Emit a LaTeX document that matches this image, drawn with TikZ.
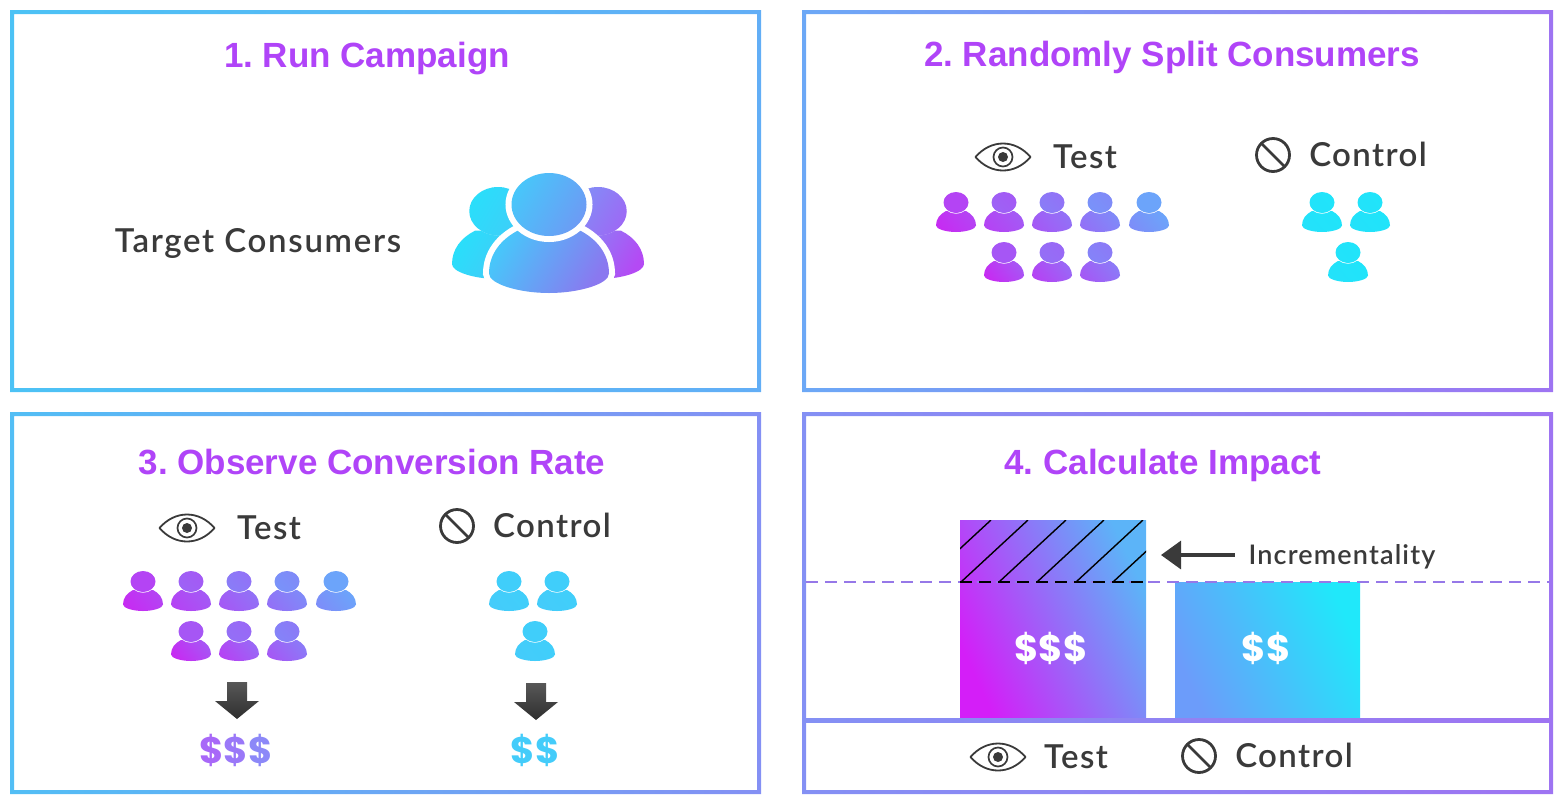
\documentclass[tikz,border=0pt]{standalone}
\usepackage{fontspec}
\setmainfont{Lato Semibold}[LetterSpace=4.2]
\newfontfamily\titlefont{Liberation Sans}[BoldFont={Liberation Sans Bold}]
\newfontfamily\moneyfont{Poppins}
\usetikzlibrary{arrows.meta}
\frenchspacing

\definecolor{ink}{HTML}{3A3A3A}
\definecolor{titlepurple}{HTML}{B044F8}
\definecolor{pmag}{HTML}{C62CF2}
\definecolor{pblue}{HTML}{6CA4FA}
\definecolor{pcyan}{HTML}{20E4FA}
\definecolor{psky}{HTML}{44CCFA}
\definecolor{frameA}{HTML}{4CC2F5}
\definecolor{frameB}{HTML}{62AEF6}
\definecolor{frameC}{HTML}{52BEF5}
\definecolor{frameD}{HTML}{8490F4}
\definecolor{frameE}{HTML}{6CA8F6}
\definecolor{frameF}{HTML}{9E74F2}
\definecolor{dashpurple}{HTML}{9678E8}
\definecolor{barmag}{HTML}{D41EF8}
\definecolor{barblue}{HTML}{6C9CFA}
\definecolor{barsky}{HTML}{5CB4F8}
\definecolor{barcyan}{HTML}{20E8FA}
\definecolor{bigleftA}{HTML}{2ADEFA}
\definecolor{bigleftB}{HTML}{50C0F8}
\definecolor{bigrightA}{HTML}{8090F6}
\definecolor{bigrightB}{HTML}{B44AF4}
\definecolor{bigmidA}{HTML}{48C6FA}
\definecolor{bigmidB}{HTML}{8A78F0}
\definecolor{dollarA}{HTML}{A868F8}
\definecolor{dollarB}{HTML}{9A78F8}
\definecolor{dollarC}{HTML}{8C88F8}

\tikzstyle{frame} = [even odd rule]
\tikzstyle{title} = [font=\titlefont\bfseries\fontsize{35}{35}\selectfont, text=titlepurple, inner sep=0pt, text height=25pt, text depth=7pt]
\tikzstyle{caption} = [font=\fontsize{33}{33}\selectfont, text=ink, inner sep=0pt, text height=24pt, text depth=1pt]
\tikzstyle{money} = [font=\moneyfont\bfseries\fontsize{37}{37}\selectfont, inner sep=0pt, text height=27pt, text depth=1pt]
\tikzstyle{bar} = [inner sep=0pt, shading angle=-65]
\tikzstyle{arrow} = [ink, line width=3.2pt, -{Triangle[length=20pt,width=28pt]}]

\tikzset{
  pics/person/.style n args={2}{code={
    \shade [bottom color=#1, top color=#2, shading angle=-50]
      (-20,33.5) .. controls (-20,27) and (-16,22) .. (-10,19) -- (10,19)
      .. controls (16,22) and (20,27) .. (20,33.5)
      .. controls (20,37) and (10,40) .. (0,40)
      .. controls (-10,40) and (-20,37) .. (-20,33.5) -- cycle;
    \shade [bottom color=#1!60!#2, top color=#2, shading angle=-50, preaction={draw=white, line width=1.4pt}]
      (0,10.5) ellipse (12.5 and 10.5);
  }},
  pics/bigperson/.style n args={3}{code={
    \shade [bottom color=#1, top color=#2, shading angle=-120, preaction={draw=white, line width=#3}]
      (-20,33.5) .. controls (-20,27) and (-16,22) .. (-10,19) -- (10,19)
      .. controls (16,22) and (20,27) .. (20,33.5)
      .. controls (20,37) and (10,40) .. (0,40)
      .. controls (-10,40) and (-20,37) .. (-20,33.5) -- cycle;
    \shade [bottom color=#1, top color=#1!45!#2, shading angle=-120, preaction={draw=white, line width=#3}]
      (0,10.5) ellipse (12.5 and 10.5);
  }},
  pics/eye/.style={code={
    \draw [ink, line width=1.8pt, line join=round] (-27.5,0) .. controls (-12,-18) and (12,-18) .. (27.5,0)
      .. controls (12,18) and (-12,18) .. (-27.5,0) -- cycle;
    \draw [ink, line width=1.7pt] (0,0) circle (9.5);
    \fill [ink] (0,0) circle (5);
  }},
  pics/forbid/.style={code={
    \draw [ink, line width=2.8pt] (0,0) circle (16.5);
    \draw [ink, line width=2.8pt] (-11.7,-11.7) -- (11.7,11.7);
  }},
  pics/downarrow/.style={code={
    \shade [top color=ink!85!white, bottom color=ink!80!black]
      (-10,0) -- (10,0) -- (10,19) -- (22,19) -- (0,37) -- (-22,19) -- (-10,19) -- cycle;
  }}
}

\begin{document}
\begin{tikzpicture}[x=1pt,y=-1pt,node distance=82pt]
    \useasboundingbox (0,0) rectangle (1566,804);

    % frames
    \shade [frame, left color=frameA, right color=frameB] (10,10) rectangle (761,392) (14,14) rectangle (757,388);
    \shade [frame, left color=frameE, right color=frameF] (802,10) rectangle (1553,392) (806,14) rectangle (1549,388);
    \shade [frame, left color=frameC, right color=frameD] (10,412) rectangle (761,794) (14,416) rectangle (757,790);
    \shade [frame, left color=frameD, right color=frameF] (802,412) rectangle (1553,794) (806,416) rectangle (1549,790);

    \node (titleOne) [title] at (367,58) {1. Run Campaign};
    \node (titleTwo) [title] at (1172,57) {2. Randomly Split Consumers};
    \node (titleThree) [title] at (372,465) {3. Observe Conversion Rate};
    \node (titleFour) [title] at (1163,465) {4. Calculate Impact};

    % panel 1
    \node (target) [caption] at (258,241) {\addfontfeature{LetterSpace=5.2}Target Consumers};
    \pic [scale=2.3] at (498,187) {bigperson={bigleftA}{bigleftB}{0.01pt}};
    \pic [scale=2.3] at (598,187) {bigperson={bigrightA}{bigrightB}{0.01pt}};
    \pic [scale=3] at (549,173) {bigperson={bigmidA}{bigmidB}{12pt}};

    % panel 2
    \coordinate (eyeTwo) at (1003,157);
    \coordinate (forbidTwo) at (1273,155);
    \pic at (eyeTwo) {eye};
    \pic at (forbidTwo) {forbid};
    \node (testTwo) [caption, right of=eyeTwo] {Test};
    \node (controlTwo) [caption, right of=forbidTwo, node distance=95pt] {Control};
    \foreach \x/\a/\b in {956/100/80, 1004/80/62, 1052/62/42, 1100/42/22, 1149/18/0}
      \pic at (\x,192) {person={pmag!\a!pblue}{pmag!\b!pblue}};
    \foreach \x/\a/\b in {1004/100/65, 1052/80/50, 1100/62/35}
      \pic at (\x,242) {person={pmag!\a!pblue}{pmag!\b!pblue}};
    \foreach \x/\y in {1322/192, 1370/192, 1348/242}
      \pic at (\x,\y) {person={pcyan!90!psky}{pcyan}};

    % panel 3
    \coordinate (eyeThree) at (187,528);
    \coordinate (forbidThree) at (457,526);
    \pic at (eyeThree) {eye};
    \pic at (forbidThree) {forbid};
    \node (testThree) [caption, right of=eyeThree] {Test};
    \node (controlThree) [caption, right of=forbidThree, node distance=95pt] {Control};
    \foreach \x/\a/\b in {143/100/80, 191/80/62, 239/62/42, 287/42/22, 336/18/0}
      \pic at (\x,571) {person={pmag!\a!pblue}{pmag!\b!pblue}};
    \foreach \x/\a/\b in {191/100/65, 239/80/50, 287/62/35}
      \pic at (\x,621) {person={pmag!\a!pblue}{pmag!\b!pblue}};
    \foreach \x/\y in {509/571, 557/571, 535/621}
      \pic at (\x,\y) {person={psky}{psky!90!pcyan}};
    \pic at (237,682) {downarrow};
    \pic at (536,683) {downarrow};
    \node (moneyTest) [money] at (236,750) {\textcolor{dollarA}{\$}\textcolor{dollarB}{\$}\textcolor{dollarC}{\$}};
    \node (moneyControl) [money, text=psky] at (535,750) {\$\$};

    % panel 4
    \node (barTest) [bottom color=barmag, top color=barsky, bar, minimum width=186pt, minimum height=199pt] at (1053,619.5) {};
    \node (barControl) [bottom color=barblue, top color=barcyan, bar, minimum width=185pt, minimum height=137pt] at (1267.5,650.5) {};
    \begin{scope}
      \clip (960,520) rectangle (1146,582);
      \foreach \x in {924,961,999,1037,1076,1113}
        \draw [black, line width=1.4pt] (\x,582) -- (\x+67,520);
    \end{scope}
    \coordinate (dashStart) at (806,582);
    \coordinate (dashEnd) at (1549,582);
    \coordinate (hatchLeft) at (960,582);
    \coordinate (hatchRight) at (1146,582);
    \draw [dashpurple, line width=2pt, dash pattern=on 12pt off 7pt] (dashStart) -- (dashEnd);
    \draw [black, line width=2pt, dash pattern=on 12pt off 7pt] (hatchLeft) -- (hatchRight);
    \node (moneyBarTest) [money, text=white] at (1051,648) {\$\$\$};
    \node (moneyBarControl) [money, text=white] at (1266,648) {\$\$};
    \node (increment) [caption, font=\fontsize{27}{27}\selectfont, text height=20pt] at (1342,555) {Incrementality};
    \coordinate (incrementTip) at (1161,555);
    \draw [arrow, shorten <=14pt] (increment.west) -- (incrementTip);
    \shade [left color=frameD, right color=frameF] (806,718) rectangle (1549,722);
    \coordinate (eyeFour) at (998,757);
    \coordinate (forbidFour) at (1199,756);
    \pic at (eyeFour) {eye};
    \pic at (forbidFour) {forbid};
    \node (testFour) [caption, right of=eyeFour, node distance=78pt] {Test};
    \node (controlFour) [caption, right of=forbidFour, node distance=95pt] {Control};
\end{tikzpicture}
\end{document}
